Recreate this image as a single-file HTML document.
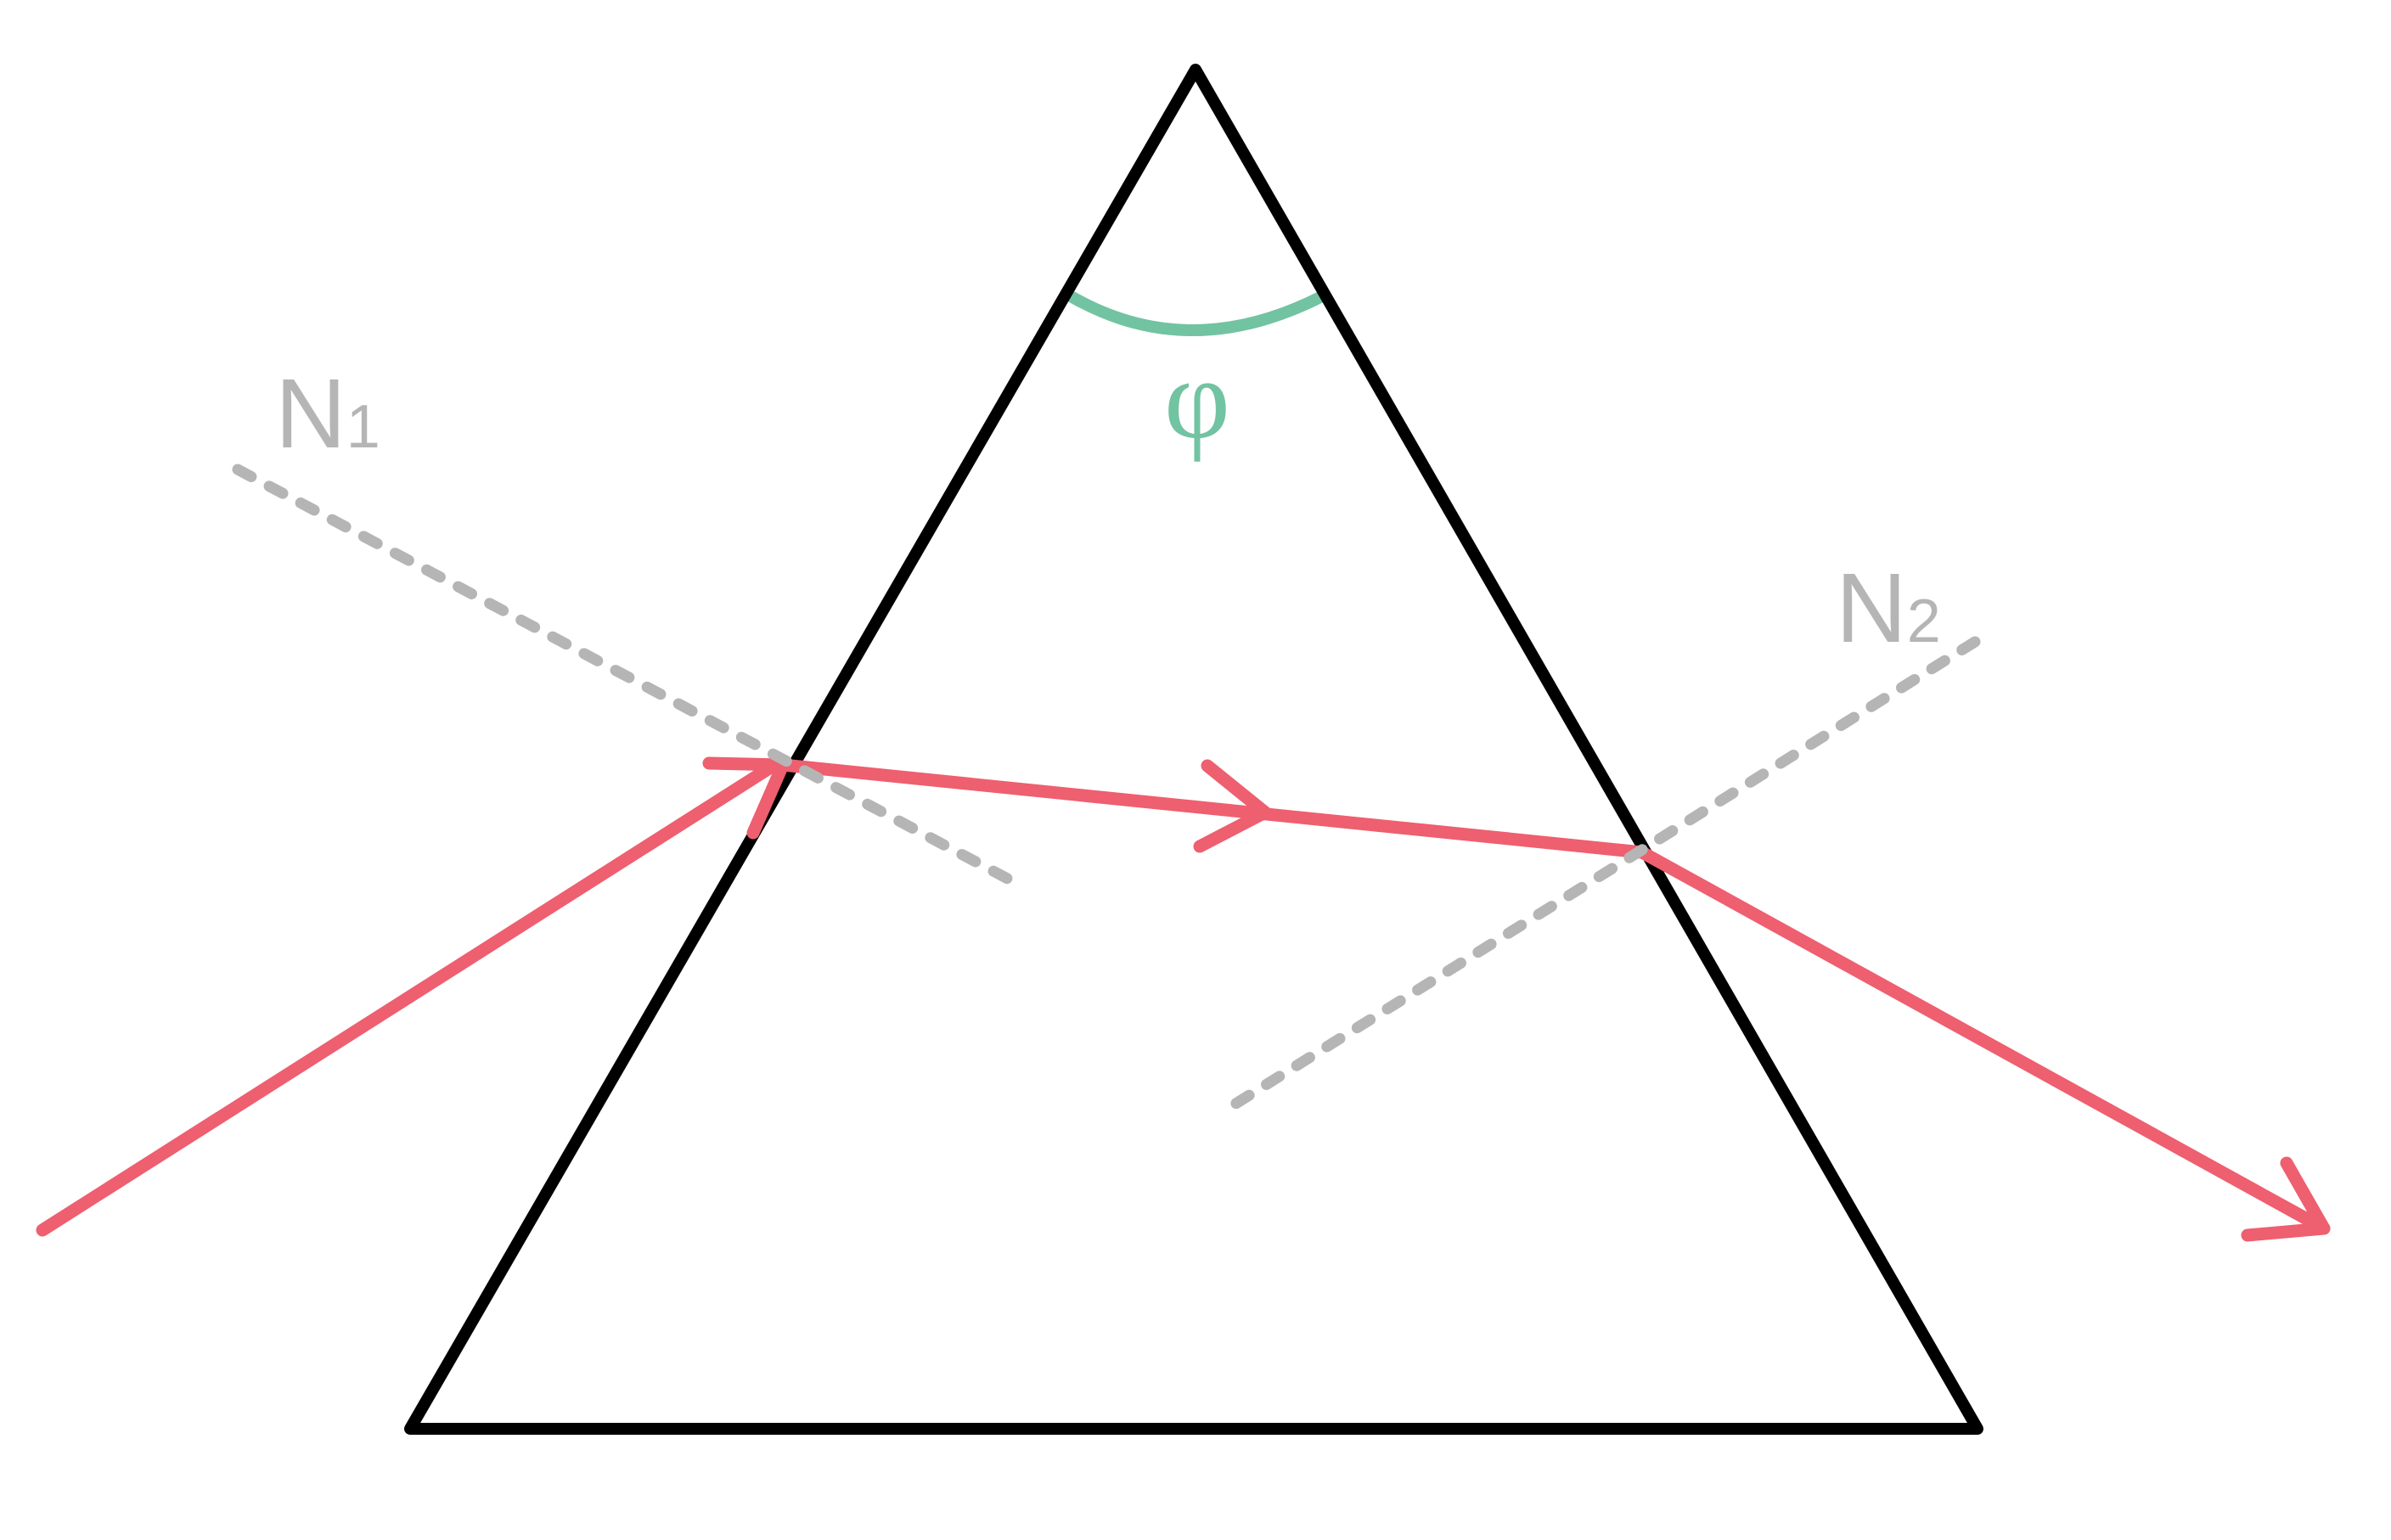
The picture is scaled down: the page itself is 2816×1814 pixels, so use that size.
<!DOCTYPE html>
<html><head><meta charset="utf-8"><style>html,body{margin:0;padding:0;background:#fff}svg{display:block}</style></head>
<body>
<svg width="2816" height="1814" viewBox="0 0 2816 1814" xmlns="http://www.w3.org/2000/svg">
<g fill="none" stroke-linecap="round" stroke-linejoin="round">
<path d="M1263,350 Q1400,428 1555,350" stroke="#72c3a2" stroke-width="14"/>
<path d="M1408,82 L483,1683 L2329,1683 Z" stroke="#000" stroke-width="14"/>
<g stroke="#ee5f6f" stroke-width="15">
<path d="M50,1449 L920,896"/>
<path d="M835,899 L922,901 L887,981"/>
<path d="M922,901 L1934,1004 L2737,1447"/>
<path d="M1422,902 L1490,957 L1413,997"/>
<path d="M2693,1370 L2737,1447 L2647,1455"/>
</g>
<g stroke="#b5b5b5" stroke-width="13" stroke-dasharray="18 24">
<path d="M280,553 L1196,1040"/>
<path d="M2326,756 L1449,1304"/>
</g>
</g>
<g fill="#b5b5b5" font-family="Liberation Sans, sans-serif">
<text x="324" y="527" font-size="116">N<tspan font-size="72">1</tspan></text>
<text x="2162" y="756" font-size="116">N<tspan font-size="72">2</tspan></text>
</g>
<text x="1410" y="515" text-anchor="middle" fill="#72c3a2" font-family="Liberation Serif, DejaVu Serif, serif" font-size="135">φ</text>
</svg>
</body></html>
